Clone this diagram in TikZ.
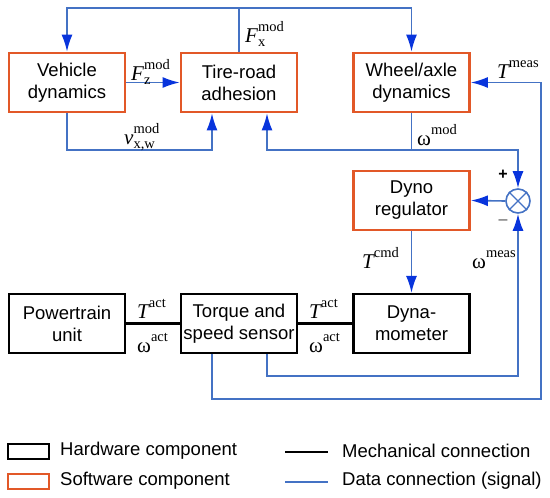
\documentclass[tikz,border=0pt]{standalone}
\usepackage{fontspec}
\setmainfont{Liberation Sans}
\newfontfamily\lsr{Liberation Serif}
\usetikzlibrary{arrows.meta}
\definecolor{sorange}{RGB}{226,88,40}
\definecolor{lblue}{RGB}{68,114,196}
\definecolor{ablue}{RGB}{8,52,220}
\newcommand\qt[3]{{\lsr\fontsize{21}{22}\selectfont #1}\rlap{\raisebox{-4pt}{\lsr\fontsize{14.5}{16}\selectfont #2}}\raisebox{11pt}{\lsr\fontsize{14.5}{16}\selectfont #3}}
\tikzset{
  box/.style={draw, rectangle, inner sep=0pt, minimum width=116pt, minimum height=59pt, align=center, font=\fontsize{18.5}{22}\selectfont},
  hw/.style={box, draw=black, line width=2.2pt},
  sw/.style={box, draw=sorange, line width=2.8pt},
  sig/.style={draw=lblue, line width=1.6pt},
  sarr/.style={sig, -{Latex[length=17pt,width=11pt,color=ablue]}},
  mech/.style={draw=black, line width=2.2pt},
  lab/.style={anchor=base west, inner sep=0pt},
  leg/.style={anchor=west, inner sep=0pt, font=\fontsize{18.5}{22}\selectfont},
}
\begin{document}
\begin{tikzpicture}[x=1pt,y=-1pt]
\useasboundingbox (0,0) rectangle (550,498);
% blocks
\node[sw] (veh) at (67,82.5) {Vehicle\\dynamics};
\node[sw] (tire) at (239,82.5) {Tire-road\\adhesion};
\node[sw] (wheel) at (411.5,82.5) {Wheel/axle\\dynamics};
\node[sw] (reg) at (411.5,200.5) {Dyno\\regulator};
\node[hw] (pt) at (67,323.5) {Powertrain\\unit};
\node[hw] (sens) at (239,323.5) {Torque and\\speed sensor};
\node[hw] (dyno) at (411.5,323.5) {Dyna-\\mometer};
\node[draw=lblue, line width=1.6pt, circle, minimum size=24pt, inner sep=0pt] (sum) at (518,201) {};
\draw[lblue, line width=1.4pt] (sum.north west) -- (sum.south east) (sum.north east) -- (sum.south west);
% coordinates
\coordinate (top) at (239,8);
\coordinate (a1) at (212,150);
\coordinate (b1) at (267,150);
\coordinate (c1) at (267,376);
\coordinate (d1) at (212,399);
\coordinate (d2) at (541,399);
% signals
\draw[sarr] (tire.north) -- (top) -| (veh.north);
\draw[sarr] (top) -| (wheel.north);
\draw[sarr] (veh.east) -- (tire.west);
\draw[sarr] (veh.south) |- (a1) -- (tire.south -| a1);
\draw[sarr] (wheel.south) -- (wheel.south |- b1) -- (b1) -- (tire.south -| b1);
\draw[sarr] (wheel.south |- b1) -| (sum.north);
\draw[sarr] (sum.west) -- (reg.east);
\draw[sarr] (reg.south) -- (dyno.north);
\draw[sarr] (sens.south -| c1) -- (c1) -| (sum.south);
\draw[sarr] (sens.south -| d1) -- (d1) -- (d2) |- (wheel.east);
% mechanical
\draw[mech] (pt.east) -- (sens.west);
\draw[mech] (sens.east) -- (dyno.west);
% labels
\node[lab] (fx) at (245,42) {\qt{\itshape F}{x}{mod}};
\node[lab] (fz) at (131,80) {\qt{\itshape F}{z}{mod}};
\node[lab] (vx) at (124,144) {\qt{\itshape v}{x,w}{mod}};
\node[lab] (wm) at (417,145) {\qt{ω}{}{mod}};
\node[lab] (tm) at (497,78) {\qt{\itshape T}{}{meas}};
\node[lab] (tc) at (362,268) {\qt{\itshape T}{}{cmd}};
\node[lab] (wme) at (472,268) {\qt{ω}{}{meas}};
\node[lab] (ta1) at (137,318) {\qt{\itshape T}{}{act}};
\node[lab] (wa1) at (137,352) {\qt{ω}{}{act}};
\node[lab] (ta2) at (309,318) {\qt{\itshape T}{}{act}};
\node[lab] (wa2) at (309,352) {\qt{ω}{}{act}};
\node[font=\bfseries\fontsize{16}{18}\selectfont, inner sep=0pt] (plus) at (503,175) {+};
\node[font=\fontsize{16}{18}\selectfont, text=black!70, inner sep=0pt] (minus) at (503,222) {–};
% legend
\node[draw=black, line width=2pt, minimum width=41pt, minimum height=15pt, inner sep=0pt] (lhw) at (28.5,451.5) {};
\node[leg] (thw) at (60,451) {Hardware component};
\node[draw=sorange, line width=2pt, minimum width=41pt, minimum height=15pt, inner sep=0pt] (lsw) at (28.5,481.5) {};
\node[leg] (tsw) at (60,481) {Software component};
\coordinate (m1) at (285,452);
\coordinate (m2) at (328,452);
\draw[mech, line width=2pt] (m1) -- (m2);
\node[leg] (tmech) at (342,451) {Mechanical connection};
\coordinate (s1) at (285,482);
\coordinate (s2) at (328,482);
\draw[sig] (s1) -- (s2);
\node[leg] (tsig) at (342,481) {Data connection (signal)};
\end{tikzpicture}
\end{document}
